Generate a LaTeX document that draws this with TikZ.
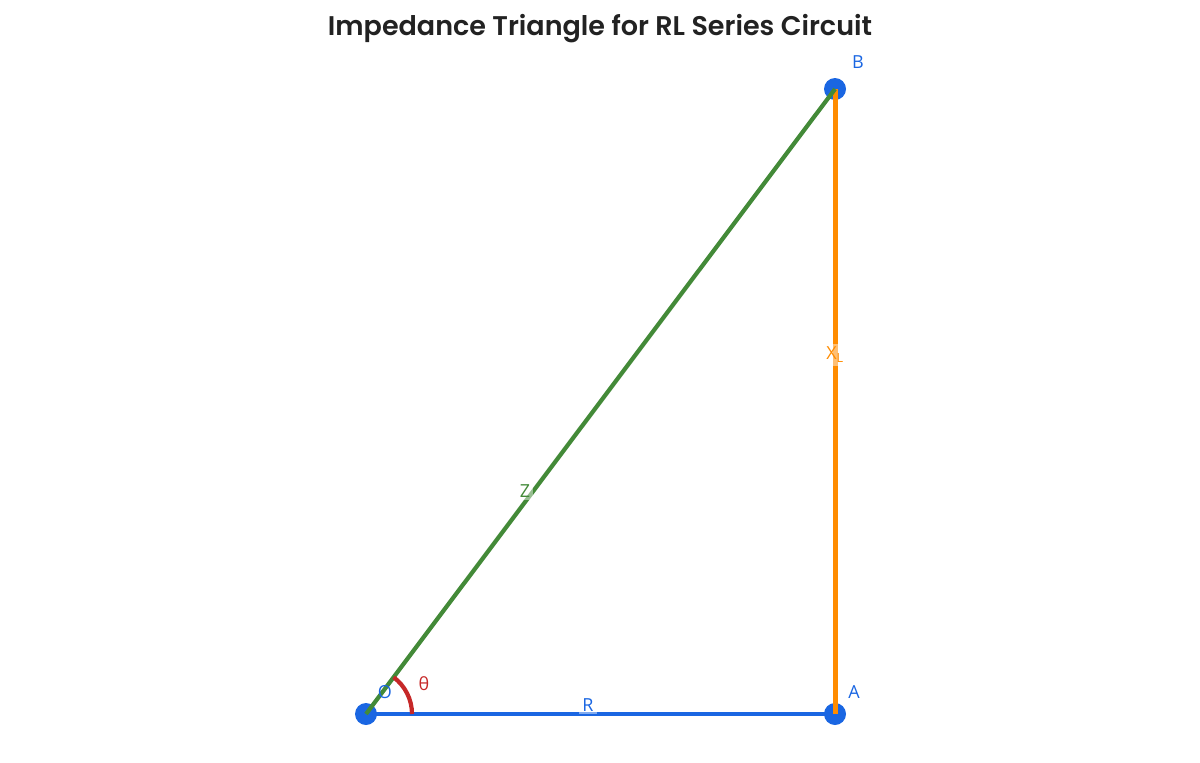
\documentclass[tikz,border=0pt]{standalone}
\usepackage{fontspec}
\setmainfont{Open Sans}
\newfontfamily\titlefont{Poppins}[UprightFont=* SemiBold,BoldFont=* Bold]
\definecolor{cblue}{HTML}{1A66E2}
\definecolor{cgreen}{HTML}{438A38}
\definecolor{corange}{HTML}{FF8C00}
\definecolor{cred}{HTML}{C62828}
\definecolor{ctitle}{HTML}{222222}
\tikzset{
  vdot/.style={circle,fill=cblue,inner sep=0pt,minimum size=22pt},
  side/.style={line width=4.2pt},
  ptlabel/.style={text=cblue,font=\fontsize{18}{22}\selectfont,inner sep=0pt},
  sidelabel/.style={fill=white,fill opacity=0.45,text opacity=1,font=\fontsize{18}{22}\selectfont,inner xsep=3pt,inner ysep=3pt}
}
\begin{document}
\begin{tikzpicture}[x=1pt,y=-1pt]
\useasboundingbox (0,0) rectangle (1200,763);
\node[font=\titlefont\fontsize{27}{32}\selectfont,text=ctitle] (title) at (600,29) {Impedance Triangle for RL Series Circuit};
\node[vdot] (O) at (366,714) {};
\node[vdot] (A) at (835,714) {};
\node[vdot] (B) at (835,89) {};
\draw[side,cblue] (O.center) -- (A.center);
\draw[side,line width=5pt,corange] (A.center) -- (B.center);
\draw[side,cgreen] (O.center) -- (B.center);
\draw[cred,line width=4.2pt] ([shift={(46,0)}]O.center) arc[start angle=0,end angle=-53.1,radius=46];
\node[ptlabel] (lO) at (385,692) {O};
\node[ptlabel,text=cred] (lth) at (424,684) {θ};
\node[ptlabel] (lA) at (854,692) {A};
\node[ptlabel] (lB) at (858,62) {B};
\node[sidelabel,text=cblue] (lR) at (588,705) {R};
\node[sidelabel,text=cgreen] (lZ) at (525,491) {Z};
\node[sidelabel,text=corange] (lX) at (835,355) {X\textsubscript{L}};
\end{tikzpicture}
\end{document}
